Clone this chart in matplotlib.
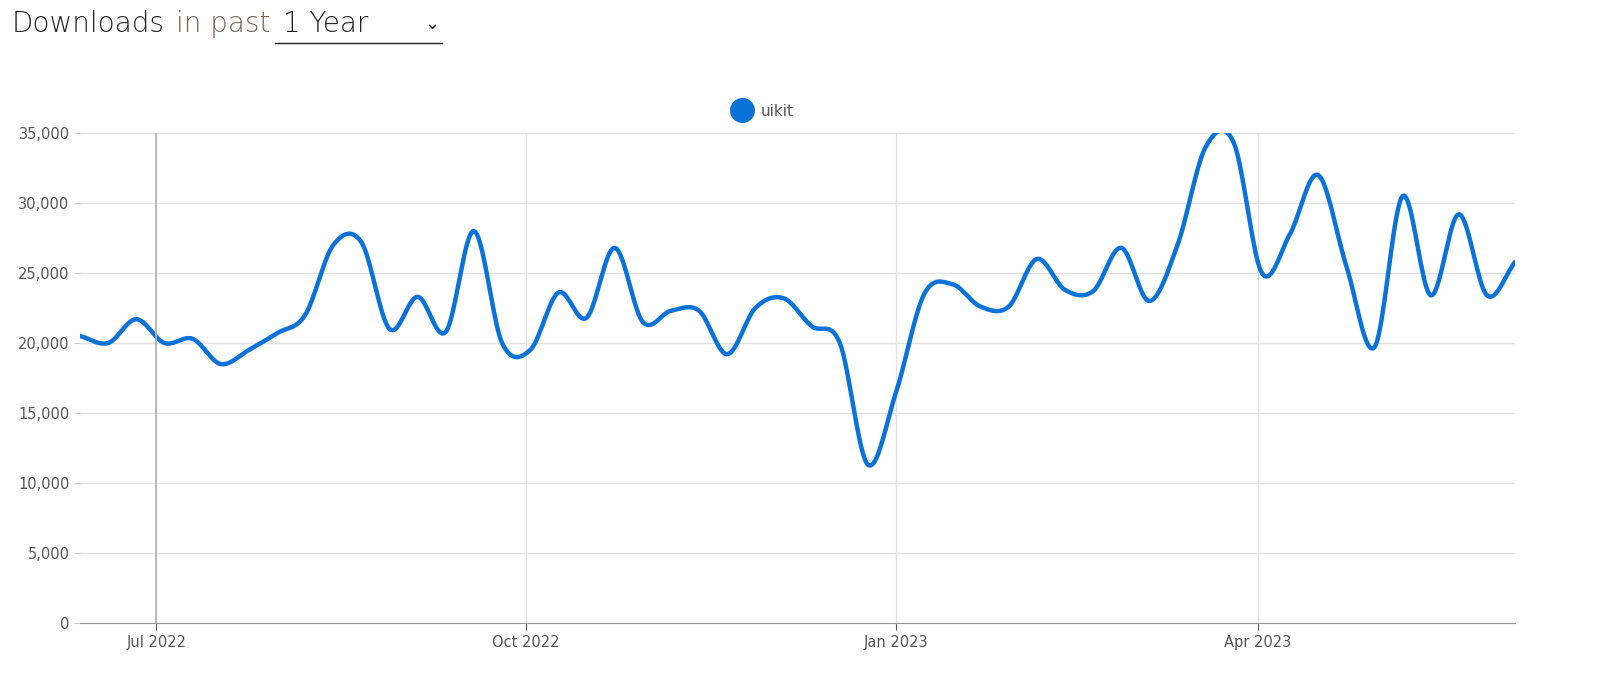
import numpy as np
import pandas as pd
import matplotlib
matplotlib.use("Agg")
from matplotlib import pyplot as plt
from matplotlib.lines import Line2D

start = "2022-06-12"
downloads = [20500, 20000, 21700, 20000, 20300, 18500, 19500, 20700, 22000, 27000,
             27200, 21000, 23300, 20800, 28000, 20000, 19500, 23600, 21800, 26800,
             21500, 22300, 22300, 19200, 22500, 23200, 21200, 20000, 11300, 16500,
             23500, 24200, 22600, 22600, 26000, 23800, 23700, 26800, 23000, 27000,
             34000, 34300, 25000, 27800, 32000, 25500, 19700, 30500, 23400, 29200,
             23400, 25800]
dates = pd.date_range(start, periods=len(downloads), freq="7D")
ticks = pd.to_datetime(["2022-07-01", "2022-10-01", "2023-01-01", "2023-04-01"])
tick_labels = ["Jul 2022", "Oct 2022", "Jan 2023", "Apr 2023"]


def smooth(x, y, n=20):
    # cubic Hermite curve through the weekly points (display only)
    x = np.asarray(x, float)
    y = np.asarray(y, float)
    m = np.gradient(y, x)
    xs, ys = [], []
    for i in range(len(x) - 1):
        h = x[i + 1] - x[i]
        t = np.linspace(0, 1, n, endpoint=False)
        h00 = 2 * t**3 - 3 * t**2 + 1
        h10 = t**3 - 2 * t**2 + t
        h01 = -2 * t**3 + 3 * t**2
        h11 = t**3 - t**2
        xs.append(x[i] + t * h)
        ys.append(h00 * y[i] + h10 * h * m[i] + h01 * y[i + 1] + h11 * h * m[i + 1])
    xs.append([x[-1]])
    ys.append([y[-1]])
    return np.concatenate(xs), np.concatenate(ys)


xnum = matplotlib.dates.date2num(dates)
sx, sy = smooth(xnum, downloads)

fig = plt.figure(figsize=(16, 6.86), dpi=100)
ax = fig.add_axes([0.05, 0.092, 0.897, 0.714])
ax.plot(sx, sy, color="#0b72d9", linewidth=3.2, solid_capstyle="round")
ax.set_xlim(xnum[0], xnum[-1])
ax.set_ylim(0, 35000)
ax.set_yticks(range(0, 35001, 5000))
ax.set_yticklabels([f"{v:,}" for v in range(0, 35001, 5000)])
ax.set_xticks(matplotlib.dates.date2num(ticks))
ax.set_xticklabels(tick_labels)
ax.grid(color="#e2e2e2", linewidth=1)
ax.set_axisbelow(True)
ax.axvline(matplotlib.dates.date2num(ticks[0]), color="#b0b0b0", linewidth=1.2)
for s in ["top", "right", "left"]:
    ax.spines[s].set_visible(False)
ax.spines["bottom"].set_color("#999999")
ax.tick_params(colors="#555555", labelsize=10.5, length=5)
ax.tick_params(axis="y", length=4, color="#cccccc")

handle = Line2D([], [], marker="o", linestyle="none", markersize=17, color="#0b72d9")
fig.legend([handle], ["uikit"], loc="center", bbox_to_anchor=(0.475, 0.838),
           frameon=False, fontsize=11, labelcolor="#555555", handletextpad=0.2)

fig.text(0.007, 0.965, "Downloads", fontsize=20, color="#222222", va="center", fontweight="light")
fig.text(0.11, 0.965, "in past", fontsize=20, color="#7a6450", va="center", fontweight="light")
fig.text(0.177, 0.965, "1 Year", fontsize=20, color="#222222", va="center", fontweight="light")
fig.text(0.265, 0.965, "⌄", fontsize=13, color="#222222", va="center")
fig.add_artist(Line2D([0.172, 0.276], [0.937, 0.937], color="#222222", linewidth=1))

fig.savefig("out.png")
